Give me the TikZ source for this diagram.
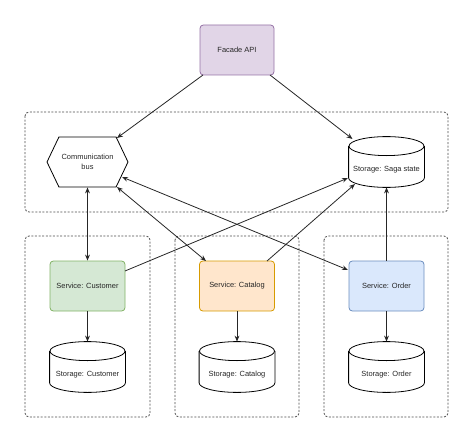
\documentclass[tikz,border=0pt]{standalone}
\usepackage{fontspec}
\setmainfont{Liberation Sans}
\usetikzlibrary{shapes.symbols,arrows.meta,calc}
\definecolor{apiFill}{HTML}{E1D5E7}
\definecolor{apiLine}{HTML}{9673A6}
\definecolor{custFill}{HTML}{D5E8D4}
\definecolor{custLine}{HTML}{82B366}
\definecolor{catFill}{HTML}{FFE6CC}
\definecolor{catLine}{HTML}{D79B00}
\definecolor{ordFill}{HTML}{DAE8FC}
\definecolor{ordLine}{HTML}{6C8EBF}
\tikzset{
  txt/.style={font=\fontsize{5.6}{7.1}\selectfont, text=black!85},
  svcbox/.style={draw, rounded corners=2.5pt, minimum width=56.25pt, minimum height=37.5pt, txt},
  store/.style={minimum width=56.25pt, minimum height=37.5pt, inner sep=0pt},
  group/.style={draw=black!70, dash pattern=on 1.5pt off 1.2pt, rounded corners=3pt},
  link/.style={-{Stealth[length=4.5pt,width=3.6pt]}, black!85},
  twoway/.style={{Stealth[length=4.5pt,width=3.6pt]}-{Stealth[length=4.5pt,width=3.6pt]}, black!85}
}
% outline of a storage cylinder round a named node
\newcommand\dbdraw[1]{%
  \draw ($(#1.north west)+(0,9.5)$) -- ($(#1.south west)+(0,-9.5)$)
    .. controls ($(#1.south west)+(0,-4.25)$) and ($(#1.south)+(-20.7,0)$) .. (#1.south)
    .. controls ($(#1.south)+(20.7,0)$) and ($(#1.south east)+(0,-4.25)$) .. ($(#1.south east)+(0,-9.5)$)
    -- ($(#1.north east)+(0,9.5)$);
  \draw ($(#1.north)+(0,9.5)$) ellipse [x radius=37.5, y radius=9.5];
}
\begin{document}
\begin{tikzpicture}[x=0.75pt,y=0.75pt,yscale=-1,xscale=1,line width=0.6pt]
\useasboundingbox (0,0) rectangle (474,442);
% groups
\draw[group] (25,112) rectangle (448,212);
\draw[group] (25,236) rectangle (150,417);
\draw[group] (175,236) rectangle (299,417);
\draw[group] (324,236) rectangle (448,417);
% top row
\node[svcbox, fill=apiFill, draw=apiLine, minimum width=55.5pt] (facade) at (237,50) {Facade API};
\node[draw, signal, signal to=west and east, signal pointer angle=129, minimum width=60.75pt, minimum height=37.5pt, inner sep=0pt, align=center, txt] (bus) at (87.5,162) {Communication\\bus};
\node[store, label={[txt, yshift=-6pt]center:Storage: Saga state}] (saga) at (386.5,162) {};
\dbdraw{saga}
% services
\node[svcbox, fill=custFill, draw=custLine] (cust) at (87.5,286) {Service: Customer};
\node[svcbox, fill=catFill, draw=catLine] (cat) at (237,286) {Service: Catalog};
\node[svcbox, fill=ordFill, draw=ordLine] (ord) at (386.5,286) {Service: Order};
% storages
\node[store, label={[txt, yshift=-6pt]center:Storage: Customer}] (custdb) at (87.5,367) {};
\node[store, label={[txt, yshift=-6pt]center:Storage: Catalog}] (catdb) at (237,367) {};
\node[store, label={[txt, yshift=-6pt]center:Storage: Order}] (orddb) at (386.5,367) {};
\dbdraw{custdb}
\dbdraw{catdb}
\dbdraw{orddb}
% connectors
\draw[link] ($(facade.center)+(-34,25)$) -- ($(bus.center)+(29.5,-24)$);
\draw[link] ($(facade.center)+(33,25)$) -- ($(saga.center)+(-34,-23)$);
\draw[twoway] (bus.south) -- (cust.north);
\draw[link] ($(cust.center)+(37.5,-15)$) -- ($(saga.center)+(-38.5,16)$);
\draw[twoway] ($(bus.center)+(29.5,25)$) -- ($(cat.center)+(-31,-25)$);
\draw[link] ($(cat.center)+(30,-25)$) -- ($(saga.center)+(-31.5,22)$);
\draw[twoway] ($(bus.center)+(34.5,15)$) -- ($(ord.center)+(-38.5,-16)$);
\draw[link] (ord.north) -- (saga.south);
\draw[link] (cust.south) -- (custdb.north);
\draw[link] (cat.south) -- (catdb.north);
\draw[link] (ord.south) -- (orddb.north);
\end{tikzpicture}
\end{document}
